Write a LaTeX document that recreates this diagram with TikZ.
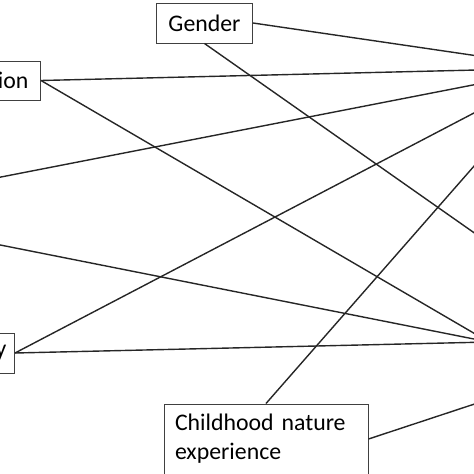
\documentclass[tikz,border=0pt]{standalone}
\usepackage{fontspec}
\setmainfont{Carlito}
\usetikzlibrary{positioning}

\begin{document}
\begin{tikzpicture}[x=1pt, y=-1pt, font=\fontsize{23.8}{29}\selectfont,
  box/.style={draw=black!75, line width=1pt, inner xsep=12pt, inner ysep=0pt, minimum height=40pt},
  link/.style={black!85, line width=1.4pt}]
  \useasboundingbox (0,0) rectangle (474,474);
  % Boxes
  \node[box, minimum width=95pt] (gender) at (204.5,23) {Gender};
  \node[box, anchor=east, text width=90pt, align=right, minimum height=39pt] (educ) at (41,80.5) {ion};
  \node[box, anchor=east, text width=60pt, align=right, inner xsep=8pt] (family) at (15,353) {y};
  \node[box, text width=182pt, inner xsep=11pt, align=left, minimum height=70pt] (child) at (266,439) {Childhood nature\\experience};
  % Ends outside the frame
  \coordinate (srcA) at (-40,185);
  \coordinate (srcB) at (-40,237);
  \coordinate (outA) at (560,68);
  \coordinate (outB) at (489,342);
  \coordinate (outC) at (520,265);
  \coordinate (outD) at (520,389);
  % Paths
  \draw[link] (gender.east) -- (outA);
  \draw[link] (gender.south) -- (outC);
  \draw[link] (educ.east) -- (outA);
  \draw[link] (educ.east) -- (outB);
  \draw[link] (srcA) -- (outA);
  \draw[link] (srcB) -- (outB);
  \draw[link] (family.east) -- (outA);
  \draw[link] (family.east) -- (outB);
  \draw[link] (child.north) -- (outA);
  \draw[link] (child.east) -- (outD);
\end{tikzpicture}
\end{document}
